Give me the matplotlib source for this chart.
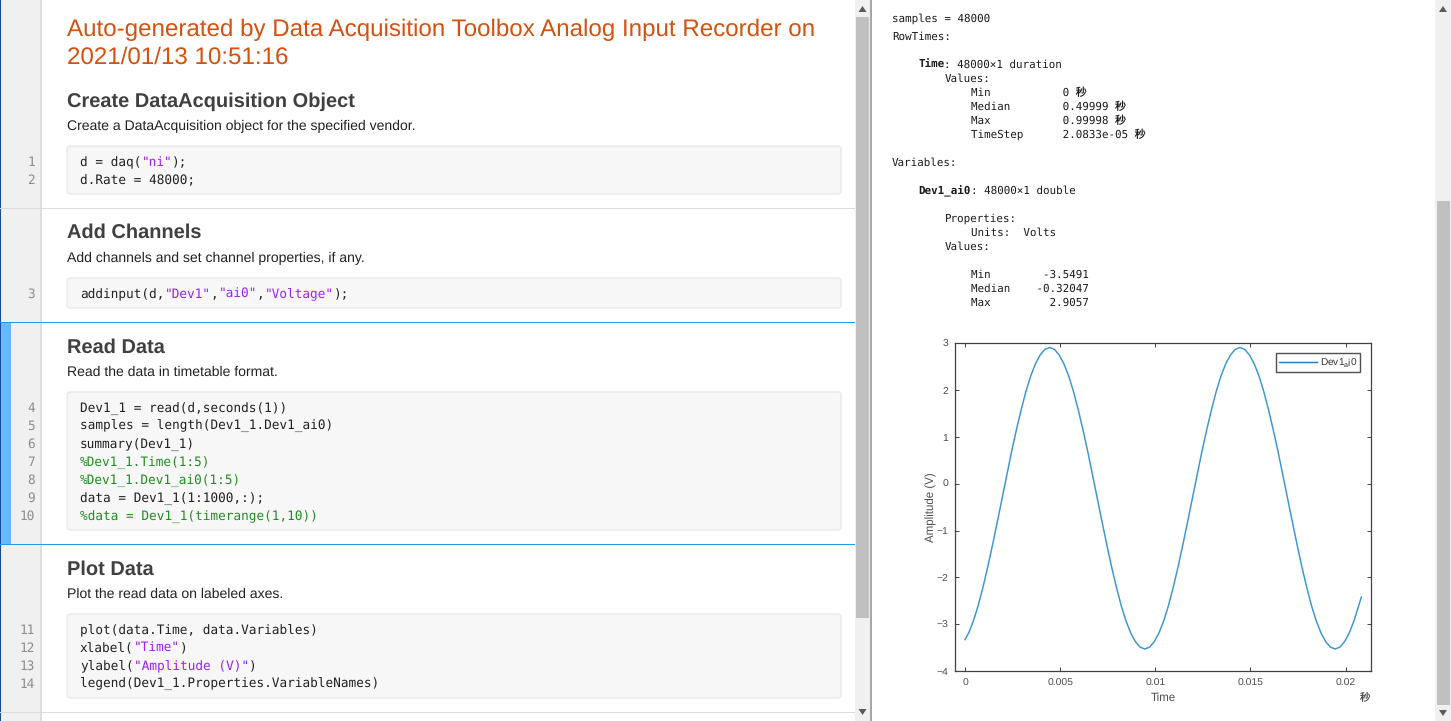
import matplotlib
matplotlib.use("Agg")
import matplotlib.pyplot as plt
from matplotlib.patches import FancyBboxPatch, Polygon, Rectangle

WIDTH, HEIGHT = 1451, 721

# signal: seconds / volts
time_s = [
    0.0, 0.0002, 0.00045, 0.0007, 0.00095, 0.0012, 0.00145, 0.0017, 0.00195,
    0.0022, 0.00245, 0.0027, 0.00295, 0.0032, 0.00345, 0.0037, 0.00395, 0.0042,
    0.00445, 0.0047, 0.00495, 0.0052, 0.00545, 0.0057, 0.00595, 0.0062, 0.00645,
    0.0067, 0.00695, 0.0072, 0.00745, 0.0077, 0.00795, 0.0082, 0.00845, 0.0087,
    0.00895, 0.0092, 0.00945, 0.0097, 0.00995, 0.0102, 0.01045, 0.0107, 0.01095,
    0.0112, 0.01145, 0.0117, 0.01195, 0.0122, 0.01245, 0.0127, 0.01295, 0.0132,
    0.01345, 0.0137, 0.01395, 0.0142, 0.01445, 0.0147, 0.01495, 0.0152, 0.01545,
    0.0157, 0.01595, 0.0162, 0.01645, 0.0167, 0.01695, 0.0172, 0.01745, 0.0177,
    0.01795, 0.0182, 0.01845, 0.0187, 0.01895, 0.0192, 0.01945, 0.0197, 0.01995,
    0.0202, 0.02045, 0.0207, 0.02083,
]
amplitude_v = [
    -3.33, -3.18, -2.92, -2.59, -2.20, -1.77, -1.30, -0.81, -0.31,
    0.19, 0.69, 1.15, 1.58, 1.97, 2.30, 2.56, 2.75, 2.87,
    2.91, 2.87, 2.75, 2.56, 2.30, 1.97, 1.58, 1.15, 0.69,
    0.19, -0.31, -0.81, -1.30, -1.77, -2.20, -2.59, -2.92, -3.18,
    -3.37, -3.49, -3.53, -3.49, -3.37, -3.18, -2.92, -2.59, -2.20,
    -1.77, -1.30, -0.81, -0.31, 0.19, 0.69, 1.15, 1.58, 1.97,
    2.30, 2.56, 2.75, 2.87, 2.91, 2.87, 2.75, 2.56, 2.30,
    1.97, 1.58, 1.15, 0.69, 0.19, -0.31, -0.81, -1.30, -1.77,
    -2.20, -2.59, -2.92, -3.18, -3.37, -3.49, -3.53, -3.49, -3.37,
    -3.18, -2.92, -2.59, -2.42,
]
x_ticks = [0, 0.005, 0.01, 0.015, 0.02]
x_tick_labels = ["0", "0.005", "0.01", "0.015", "0.02"]
y_ticks = [-4, -3, -2, -1, 0, 1, 2, 3]
y_tick_labels = ["\u22124", "\u22123", "\u22122", "\u22121", "0", "1", "2", "3"]

title_lines = [
    "Auto-generated by Data Acquisition Toolbox Analog Input Recorder on",
    "2021/01/13 10:51:16",
]
headings = [
    (107, "Create DataAcquisition Object"),
    (238, "Add Channels"),
    (353, "Read Data"),
    (575, "Plot Data"),
]
descriptions = [
    (130, "Create a DataAcquisition object for the specified vendor."),
    (262, "Add channels and set channel properties, if any."),
    (376, "Read the data in timetable format."),
    (598, "Plot the read data on labeled axes."),
]

K = "#212121"
S = "#a020f0"
C = "#228b22"
code_lines = [
    (166, "1", [("d = daq(", K), ('"ni"', S), (");", K)]),
    (184, "2", [("d.Rate = 48000;", K)]),
    (298, "3", [("addinput(d,", K), ('"Dev1"', S), (",", K), ('"ai0"', S), (",", K), ('"Voltage"', S), (");", K)]),
    (412, "4", [("Dev1_1 = read(d,seconds(1))", K)]),
    (430, "5", [("samples = length(Dev1_1.Dev1_ai0)", K)]),
    (448, "6", [("summary(Dev1_1)", K)]),
    (466, "7", [("%Dev1_1.Time(1:5)", C)]),
    (484, "8", [("%Dev1_1.Dev1_ai0(1:5)", C)]),
    (502, "9", [("data = Dev1_1(1:1000,:);", K)]),
    (520, "10", [("%data = Dev1_1(timerange(1,10))", C)]),
    (634, "11", [("plot(data.Time, data.Variables)", K)]),
    (652, "12", [("xlabel(", K), ('"Time"', S), (")", K)]),
    (670, "13", [("ylabel(", K), ('"Amplitude (V)"', S), (")", K)]),
    (688, "14", [("legend(Dev1_1.Properties.VariableNames)", K)]),
]
code_boxes = [(146, 194), (278, 308), (392, 530), (614, 698)]

# baseline, column, text, bold
output_lines = [
    (22, 0, "samples = 48000", False),
    (40, 0, "RowTimes:", False),
    (68, 4, "Time", True),
    (68, 8, ": 48000\u00d71 duration", False),
    (82, 8, "Values:", False),
    (96, 12, "Min           0 \u79d2", False),
    (110, 12, "Median        0.49999 \u79d2", False),
    (124, 12, "Max           0.99998 \u79d2", False),
    (138, 12, "TimeStep      2.0833e-05 \u79d2", False),
    (166, 0, "Variables:", False),
    (194, 4, "Dev1_ai0", True),
    (194, 12, ": 48000\u00d71 double", False),
    (222, 8, "Properties:", False),
    (236, 12, "Units:  Volts", False),
    (250, 8, "Values:", False),
    (278, 12, "Min        -3.5491", False),
    (292, 12, "Median    -0.32047", False),
    (306, 12, "Max         2.9057", False),
]

MONO = ["DejaVu Sans Mono", "Noto Sans CJK JP"]
SANS = ["Liberation Sans", "DejaVu Sans"]

plt.rcParams["text.hinting"] = "none"

fig = plt.figure(figsize=(WIDTH / 100, HEIGHT / 100), dpi=100, facecolor="white")

# page chrome is drawn in pixel coordinates on a full-figure axes
ui = fig.add_axes([0, 0, 1, 1])
ui.set_xlim(0, WIDTH)
ui.set_ylim(HEIGHT, 0)
ui.axis("off")


def rect(x0, y0, x1, y1, color):
    ui.add_patch(Rectangle((x0, y0), x1 - x0, y1 - y0, facecolor=color, edgecolor="none"))


def arrow(cx, cy, up=True):
    d = -3 if up else 3
    ui.add_patch(Polygon([(cx - 4, cy - d), (cx + 4, cy - d), (cx, cy + d)],
                         facecolor="#5a5a5a", edgecolor="none"))


# gutter and section rules
rect(0, 0, 40, HEIGHT, "#f0f0f0")
rect(40, 0, 41.5, HEIGHT, "#dedede")
rect(0, 0, 1.2, HEIGHT, "#174a96")
rect(1.2, 322, 11, 544, "#66bbff")
rect(0, 207.7, 855, 209, "#dcdcdc")
rect(0, 711.7, 855, 713, "#dcdcdc")
rect(0, 321.7, 855, 323, "#1a9bf5")
rect(0, 544, 855, 545.3, "#1a9bf5")

# scrollbars
rect(855, 0, 870, HEIGHT, "#f0f0f0")
rect(856, 17, 869, 618, "#c0c0c0")
rect(870, 0, 872, HEIGHT, "#a6a6a6")
arrow(862.5, 9)
arrow(862.5, 712, up=False)
rect(1435, 0, WIDTH, HEIGHT, "#f0f0f0")
rect(1437, 201, 1450, 705, "#c0c0c0")
arrow(1443, 9)
arrow(1443, 713, up=False)

# left notebook text
for y, line in zip((36, 64), title_lines):
    ui.text(67, y, line, family=SANS, fontsize=17.33, color="#d4510f", va="baseline")
for y, line in headings:
    ui.text(67, y, line, family=SANS, fontsize=14.4, weight="bold", color="#404040", va="baseline")
for y, line in descriptions:
    ui.text(67, y, line, family=SANS, fontsize=10.07, color="#212121", va="baseline")

for y0, y1 in code_boxes:
    ui.add_patch(FancyBboxPatch((67, y0), 774, y1 - y0, boxstyle="round,pad=0,rounding_size=3",
                                facecolor="#f7f7f7", edgecolor="#e9e9e9", linewidth=1))

CODE_CHAR = 7.69
for y, number, segments in code_lines:
    ui.text(35, y, number, family=MONO, fontsize=9.22, color="#8c8c8c", ha="right", va="baseline")
    col = 0
    for text, color in segments:
        ui.text(80 + col * CODE_CHAR, y, text, family=MONO, fontsize=9.22, color=color, va="baseline")
        col += len(text)

# command output on the right
OUT_CHAR = 6.56
for y, col, line, bold in output_lines:
    ui.text(892 + col * OUT_CHAR, y, line, family=MONO, fontsize=7.87, color="#1a1a1a", va="baseline",
            weight="bold" if bold else "normal")

# the plot
left, right, top, bottom = 955.3, 1370.7, 343.3, 671
ax = fig.add_axes([left / WIDTH, 1 - bottom / HEIGHT, (right - left) / WIDTH, (bottom - top) / HEIGHT])
ax.plot(time_s, amplitude_v, color="#3a95d3", linewidth=1.05, label="Dev1$_{\\mathregular{a}}$i0")
ax.set_xlim(-0.00051, 0.02132)
ax.set_ylim(-4, 3)
ax.set_xticks(x_ticks, x_tick_labels)
ax.set_yticks(y_ticks, y_tick_labels)
ax.tick_params(direction="in", top=True, right=True, length=3, width=0.7, color="#404040",
               labelsize=7.5, labelcolor="#4d4d4d", pad=5.5)
ax.tick_params(axis="y", pad=5)
for spine in ax.spines.values():
    spine.set_color("#404040")
    spine.set_linewidth(0.9)
ax.set_xlabel("Time", family=SANS, fontsize=8.3, color="#4d4d4d", labelpad=3)
ax.set_ylabel("Amplitude (V)", family=SANS, fontsize=8.3, color="#4d4d4d", labelpad=0)
for lab in ax.get_xticklabels() + ax.get_yticklabels():
    lab.set_family(SANS)
legend = ax.legend(loc="upper right", bbox_to_anchor=((1360 - left) / (right - left), 1 - (353.3 - top) / (bottom - top)),
                   borderaxespad=0, fancybox=False, framealpha=1, edgecolor="#505050",
                   handlelength=3.7, handletextpad=0.25, borderpad=0.3, labelcolor="#333333",
                   prop={"family": SANS, "size": 7.3})
legend.get_lines()[0].set_color("#1f80c4")
ui.text(1365, 697, "\u79d2", family=["Noto Sans CJK JP"], fontsize=7.5, color="#4d4d4d", ha="center", va="center")

fig.savefig("out.png", dpi=100)
